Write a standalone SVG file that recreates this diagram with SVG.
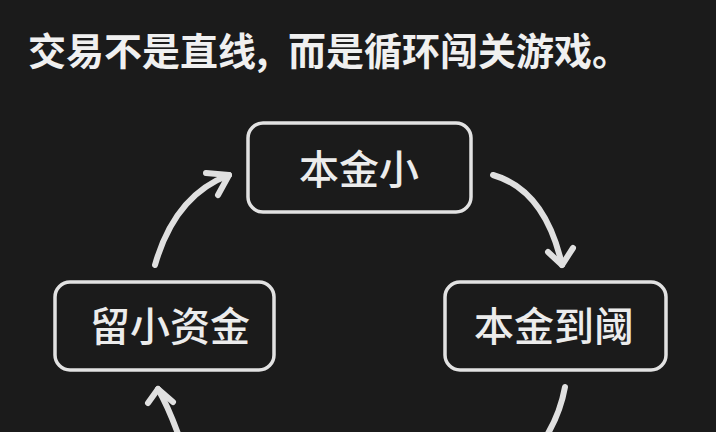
<svg xmlns="http://www.w3.org/2000/svg" width="716" height="432" viewBox="0 0 716 432">
<style>
.bg{fill:#1b1b1b}
.title{font-family:"Noto Sans CJK SC","Noto Sans",sans-serif;font-size:38px;font-weight:700;fill:#f0f0f0}
.box{fill:#1b1b1b;stroke:#e2e2e2;stroke-width:3.5}
.lbl{font-family:"Noto Sans CJK SC","Noto Sans",sans-serif;font-size:40px;font-weight:500;fill:#ececec;text-anchor:middle}
.arr{fill:none;stroke:#e0e0e0;stroke-width:6;stroke-linecap:round;stroke-linejoin:round}
</style>
<rect class="bg" x="0" y="0" width="716" height="432"/>
<text class="title" x="28" y="65">交易不是直线,<tspan x="288">而是循环闯关游戏。</tspan></text>
<g id="connectors">
<path class="arr" d="M155,265 Q175,195 229,175"/>
<polyline class="arr" points="206,173 229,175 218,195"/>
<path class="arr" d="M493,175 Q545,190 562,265"/>
<polyline class="arr" points="548,252 562,265 573,248"/>
<path class="arr" d="M182,445 Q170,410 158,389"/>
<polyline class="arr" points="148,403 158,389 173,402"/>
<path class="arr" d="M565,387 Q560,415 544,440"/>
</g>
<g id="node-top">
<rect class="box" x="248" y="123" width="223" height="89" rx="15"/>
<text class="lbl" x="359" y="184">本金小</text>
</g>
<g id="node-right">
<rect class="box" x="445" y="282" width="221" height="88" rx="15"/>
<text class="lbl" x="554" y="341">本金到阈</text>
</g>
<g id="node-left">
<rect class="box" x="55" y="282" width="219" height="88" rx="15"/>
<text class="lbl" x="170" y="341">留小资金</text>
</g>
</svg>
